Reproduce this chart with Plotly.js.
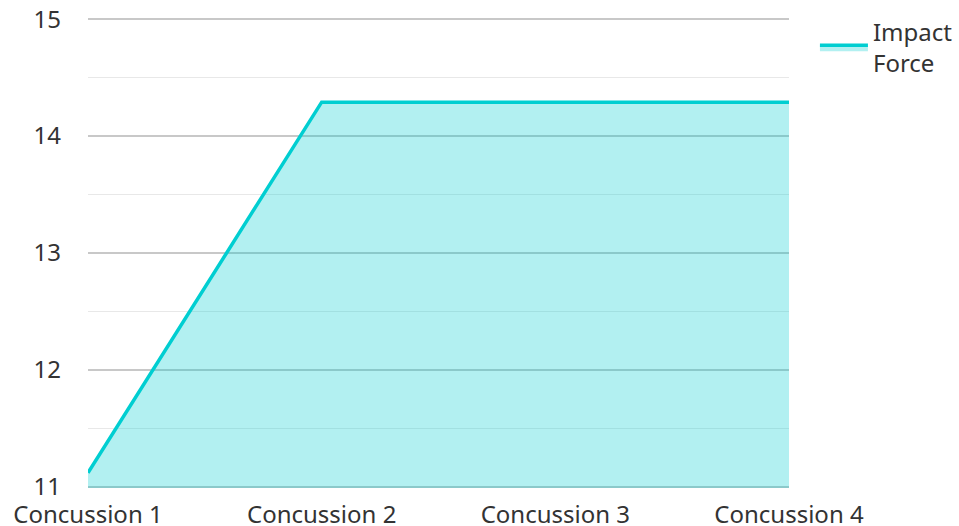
<!DOCTYPE html>
<html>
<head>
<meta charset="utf-8">
<script src="https://cdn.plot.ly/plotly-3.0.1.min.js"></script>
<style>html,body{margin:0;padding:0;background:#fff;}#chart{width:959px;height:526px;}</style>
</head>
<body>
<div id="chart"></div>
<script>
var categories = ["Concussion 1", "Concussion 2", "Concussion 3", "Concussion 4"];
var impactForce = [11.12, 14.29, 14.29, 14.29];
var seriesName = "Impact<br>Force";
var yTicks = [11, 12, 13, 14, 15];

var trace = {
  x: categories,
  y: impactForce,
  name: seriesName,
  type: "scatter",
  mode: "lines",
  fill: "tozeroy",
  fillcolor: "rgba(0,206,209,0.3)",
  line: {color: "#00CED1", width: 3.5},
  hoverinfo: "x+y"
};

var layout = {
  width: 959,
  height: 526,
  margin: {l: 88, r: 170, t: 18, b: 38, autoexpand: false},
  paper_bgcolor: "#ffffff",
  plot_bgcolor: "#ffffff",
  font: {family: "Noto Sans, Open Sans, sans-serif", size: 24, color: "#333333"},
  showlegend: true,
  legend: {x: 1.037, xanchor: "left", y: 1.018, yanchor: "top", itemwidth: 48, font: {size: 24, color: "#333333"}, bgcolor: "rgba(0,0,0,0)", tracegroupgap: 0},
  xaxis: {
    type: "category",
    range: [0, 3],
    showgrid: false,
    zeroline: false,
    showline: false,
    ticks: "",
    ticklabelstandoff: 10,
    tickfont: {size: 24, color: "#333333"},
    automargin: false
  },
  yaxis: {
    range: [10.99, 15.01],
    tickvals: yTicks,
    showgrid: true,
    gridcolor: "#c8c8c8",
    gridwidth: 1.5,
    zeroline: false,
    showline: false,
    ticks: "",
    ticklabelstandoff: 26,
    tickfont: {size: 24, color: "#333333"},
    minor: {dtick: 0.5, tick0: 11, showgrid: true, gridcolor: "#e8e8e8", gridwidth: 1.5, ticks: ""},
    automargin: false
  }
};

Plotly.newPlot("chart", [trace], layout, {displayModeBar: false, staticPlot: true});
</script>
</body>
</html>
